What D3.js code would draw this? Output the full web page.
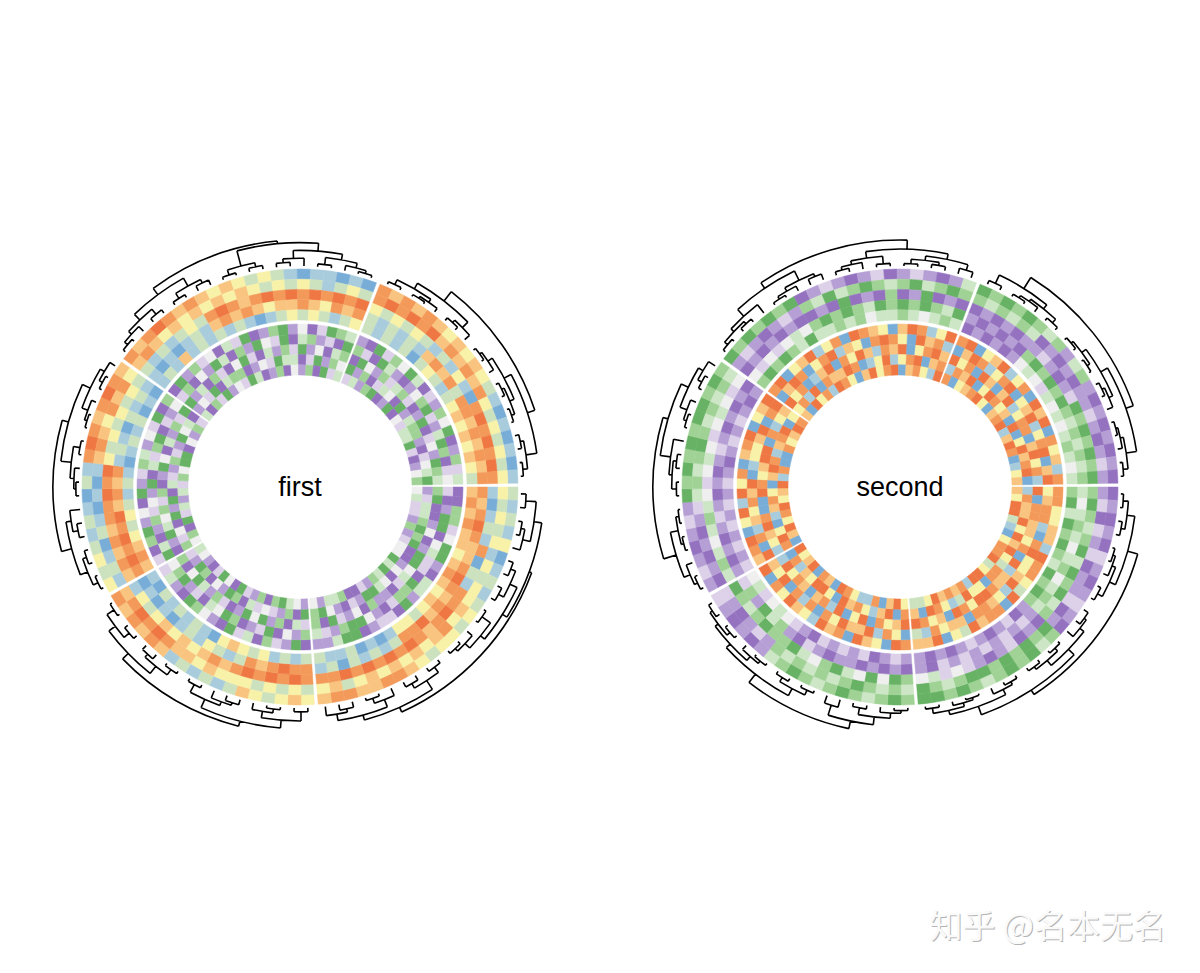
<!DOCTYPE html>
<html>
<head>
<meta charset="utf-8">
<script src="https://cdn.jsdelivr.net/npm/d3@7"></script>
<style>
  body { margin: 0; background: #fff; }
</style>
</head>
<body>
<svg></svg>
<script>
// rows per sector (a..e), same split for both circles
const sectorSizes = [24, 18, 18, 21, 19];
const titles = ['first', 'second'];

// colour levels 0..6
const rdylColors = ['#78ADD8', '#A9CCDD', '#CCE2BF', '#F8F1A8', '#F8C47F', '#F39A5A', '#EE7743'];
const prgnColors = ['#9472C0', '#B59FD4', '#DCD1E8', '#EFEFEF', '#CDE6C6', '#A0D296', '#67B264'];

// heatmap values: per sector, one string per column (outer ring first), one digit per row
const c1Outer = [
  ['212130121232332345544554', '323231323343543434343243', '101215021556545656565655', '545654456545465521212021', '454544345434323310102112'],
  ['343234212121454545', '232323334344565654', '565656545434343231', '556545212312101010', '212132343012121201'],
  ['323212102156545654', '121021010145435453', '454545565632323232', '565656454512102121', '454323212101212010'],
  ['545654543432321011010', '454343434343232321232', '212123256545656565656', '101012145454344543545', '121412121210123232123'],
  ['5454543434321010101', '5656564545453232323', '3232321213105656565', '2121214545255454545', '2121202321234343432']
];
const c1Inner = [
  ['005523661044160221066411', '201660342206552013665124', '560013016634201150312605', '124456560013034661201365', '342215123364645120054413'],
  ['061250426013560142', '513062105634021653', '240516361025146305', '605123240561305612', '134650512603620134'],
  ['205613061254132605', '640152316042560213', '016435250163041526', '523061604215216340', '350624142536603152'],
  ['061523042601561302654', '250316405163260451206', '614052036204152613045', '132604550132644026153', '405261326401503150624'],
  ['1062536402153601524', '5206410135621465023', '0631524520160231654', '6150243061455102346', '2415601603244620135']
];
const c2Outer = [
  ['010102101210546565456566', '120212011201656565665456', '565456465645010210123243', '434543453454121212121201', '564656546565102101210101'],
  ['565456545654101012', '454565454545121012', '563634653465565456', '010101101201546152', '121021212012343243'],
  ['121012165656566565', '010101245456545454', '454345432343234323', '101012101012101010', '212121212101212101'],
  ['656565601210120121014', '121012154645654564565', '010101001060105016010', '323234356565465656546', '565654644545344543454'],
  ['6565654514510101010', '5454540101011210121', '0101011210126565656', '1010105656565454545', '0101013432434345434']
];
const c2Inner = [
  ['553344165532605546230644', '345510563346134550443512', '605544350614456635604356', '154463646325503362135604', '436621035562366154546322'],
  ['560346054613463506', '035164463505150634', '643506306154045361', '506413546036634150', '364051135604506436'],
  ['456036163504560346', '605143546013346056', '134650065346605134', '563014530465145603', '046356346150053465'],
  ['560346135065430465136', '046503561430565306451', '635014605364154603564', '351605446501361356045', '406351653046356045316'],
  ['5603461350646053415', '0465135603461356046', '6350640461355046351', '1546036534060364560', '5034563045614650134']
];

// dendrograms per sector, newick-like: leaves '*', node height after ')'
const c1Dend = [
  '((((*,*)2,((*,*)1.5,*)3)6,(((*,*)2,(*,*)1.8)4,((*,*)1,(*,(*,*)1.2)2.5)5)7)9,(((*,*)1.5,(*,*)2)4,((*,(*,*)1)3,((*,*)2.2,*)3.5)6)8)10',
  '((((*,*)1.5,((*,*)1,*)2.5)5,(((*,*)2,*)3,(*,*)1.2)4.5)8,(((*,*)1,(*,*)2)3.5,((*,*)1.5,(*,*)0.8)4)7)10',
  '((((*,*)1,(*,*)1.5)3,((*,*)2,*)4)6,((((*,*)1.2,*)2,(*,*)1)3.5,(((*,*)0.8,*)1.8,((*,*)1,*)2.4)4.2)7.5)10',
  '(((((*,*)1,*)2.5,(*,*)1.5)4,((*,*)1.2,(*,*)2)3.5)7,(((*,*)1,(*,*)1.4)3,(((*,*)1.5,*)3,((*,*)1.1,(*,(*,*)0.9)2)3.8)6)9)10',
  '((((*,*)1,((*,*)0.8,*)1.6)3,((*,*)1.3,*)2.5)5.5,((((*,*)1,*)2,((*,*)1.2,(*,*)0.9)2.2)4,((*,*)1.5,(*,*)1)2.8)7)10'
];
const c2Dend = [
  '((((*,*)1,(*,*)1.5)3,(((*,*)1,*)2,(*,*)1.4)3.5)6,((((*,*)2,*)3,((*,*)1,(*,*)1.3)2.5)5,(((*,*)1.2,*)2.4,(((*,*)0.7,*)1.5,(*,*)1)3)4.6)8)10',
  '(((((*,*)1,*)2,(*,*)1.4)4,(*,*)3)7,(((*,*)1,(*,*)1.2)3,(((*,*)0.9,*)2,((*,*)1.1,(*,*)1.5)2.6)4)6)10',
  '((((*,*)1.2,*)2.5,((*,*)1,(*,*)0.8)2)5,((((*,*)1,(*,*)1.5)2.8,*)4,(((*,*)1,*)2.2,((*,*)1.3,*)3)5)8)10',
  '(((((*,*)1,(*,*)1.3)2.5,*)4,(((*,*)0.9,*)2,(*,*)2.3)3.5)7.5,((((*,*)1.4,*)2.6,(*,*)1.1)4,(((*,*)1,(*,*)1.5)2.7,(*,*)2.2)4.4)6.5)10',
  '(((*,*)1.5,(((*,*)1,*)2,(*,*)1.2)3)5,((((*,*)1,(*,*)0.8)2,((*,*)1.3,*)2.4)4,(((*,*)1,*)1.8,(*,*)1.1)3)7)10'
];

const circles = [
  { title: titles[0], cx: 300, outer: c1Outer, inner: c1Inner, outerCol: rdylColors, innerCol: prgnColors, dend: c1Dend },
  { title: titles[1], cx: 900, outer: c2Outer, inner: c2Inner, outerCol: prgnColors, innerCol: rdylColors, dend: c2Dend }
];

const width = 1200, height = 973, cy = 487;
const gapDeg = 1;

const svg = d3.select('svg')
    .attr('width', width)
    .attr('height', height)
    .attr('viewBox', `0 0 ${width} ${height}`);

// sector angles, clockwise from 3 o'clock
const nRows = d3.sum(sectorSizes);
const degPerRow = (360 - gapDeg * sectorSizes.length) / nRows;
const sectorStart = [];
let acc = 0;
sectorSizes.forEach(n => { sectorStart.push(acc); acc += n * degPerRow + gapDeg; });
const angleScales = sectorSizes.map((n, s) =>
  d3.scaleLinear().domain([0, n]).range([sectorStart[s], sectorStart[s] + n * degPerRow]));

const rOuter = d3.scaleBand().domain(d3.range(5)).range([218, 167]);
const rInner = d3.scaleBand().domain(d3.range(5)).range([163, 112]);
const rDend = d3.scaleLinear().domain([0, 10]).range([221, 247]);

const rad = deg => deg * Math.PI / 180;
const arc = d3.arc();

function parseTree(str) {
  let i = 0;
  function node() {
    if (str[i] === '(') {
      i++;
      const children = [node()];
      while (str[i] === ',') { i++; children.push(node()); }
      i++;
      let num = '';
      while (i < str.length && /[\d.]/.test(str[i])) num += str[i++];
      return { h: +num, children };
    }
    i++;
    return { h: 0 };
  }
  return node();
}

circles.forEach(c => {
  const g = svg.append('g').attr('transform', `translate(${c.cx},${cy})`);

  // heatmap tracks
  const tracks = [
    { data: c.outer, r: rOuter, col: c.outerCol },
    { data: c.inner, r: rInner, col: c.innerCol }
  ];
  tracks.forEach(t => {
    const cells = [];
    t.data.forEach((cols, s) => cols.forEach((str, j) => str.split('').forEach((v, i) =>
      cells.push({ s, j, i, v: +v }))));
    g.append('g').selectAll('path')
      .data(cells)
      .join('path')
      .attr('d', d => arc({
        innerRadius: t.r(d.j),
        outerRadius: t.r(d.j) + t.r.bandwidth(),
        startAngle: rad(angleScales[d.s](d.i) + 90),
        endAngle: rad(angleScales[d.s](d.i + 1) + 90)
      }))
      .attr('fill', d => t.col[d.v])
      .attr('stroke', d => t.col[d.v])
      .attr('stroke-width', 0.5);
  });

  // dendrograms
  c.dend.forEach((str, s) => {
    const root = d3.hierarchy(parseTree(str));
    root.leaves().forEach((l, k) => { l.pos = k + 0.5; });
    root.eachAfter(n => {
      if (n.children) n.pos = (n.children[0].pos + n.children[n.children.length - 1].pos) / 2;
    });
    const p = d3.path();
    root.each(n => {
      if (!n.children) return;
      const rn = rDend(n.data.h);
      n.children.forEach(ch => {
        const a = rad(angleScales[s](ch.pos));
        const rc = rDend(ch.data.h);
        p.moveTo(rc * Math.cos(a), rc * Math.sin(a));
        p.lineTo(rn * Math.cos(a), rn * Math.sin(a));
      });
      const a0 = rad(angleScales[s](n.children[0].pos));
      const a1 = rad(angleScales[s](n.children[n.children.length - 1].pos));
      p.moveTo(rn * Math.cos(a0), rn * Math.sin(a0));
      p.arc(0, 0, rn, a0, a1);
    });
    g.append('path')
      .attr('d', p.toString())
      .attr('fill', 'none')
      .attr('stroke', '#000')
      .attr('stroke-width', 1.6);
  });

  g.append('text')
    .attr('x', 0)
    .attr('y', 9)
    .attr('text-anchor', 'middle')
    .attr('font-family', 'Liberation Sans, Arial, sans-serif')
    .attr('font-size', 27)
    .attr('fill', '#000')
    .text(c.title);
});

// watermark
const wm = '知乎 @名本无名';
svg.append('text')
    .attr('x', 1167).attr('y', 939)
    .attr('text-anchor', 'end')
    .attr('font-family', 'Noto Sans CJK SC, sans-serif')
    .attr('font-size', 33)
    .attr('fill', '#b4b4b4')
    .text(wm);
svg.append('text')
    .attr('x', 1166).attr('y', 938)
    .attr('text-anchor', 'end')
    .attr('font-family', 'Noto Sans CJK SC, sans-serif')
    .attr('font-size', 33)
    .attr('fill', '#fafafa')
    .text(wm);
</script>
</body>
</html>
